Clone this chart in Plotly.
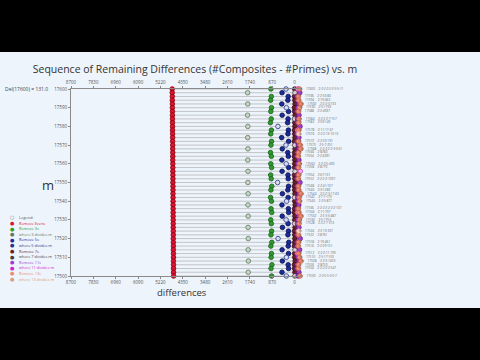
import plotly.graph_objects as go

# ---------------- data ----------------
m_values = list(range(17600, 17499, -2))  # 51 rows, top to bottom

remove_evens = [4761, 4760, 4757, 4758, 4755, 4756, 4752, 4753, 4751, 4750, 4748, 4749, 4746, 4745, 4746, 4742, 4743,
                4741, 4740, 4741, 4738, 4737, 4738, 4735, 4734, 4735, 4732, 4731, 4732, 4729, 4728, 4729, 4726, 4725,
                4726, 4723, 4722, 4723, 4720, 4719, 4720, 4717, 4716, 4717, 4714, 4713, 4714, 4711, 4710, 4711, 4708]
remove_3s = [921, 1826, 905, 932, 1822, 899, 925, 1831, 908, 941, 1819, 902, 928, 1824, 896, 919, 1815,
             937, 903, 1821, 926, 894, 1812, 930, 909, 1817, 887, 921, 1808, 934, 898, 1814, 916, 889,
             1805, 927, 904, 1810, 893, 918, 1801, 885, 922, 1806, 899, 913, 1798, 882, 917, 1803, 895]
remove_5s = [332, 488, 250, 262, 497, 319, 238, 483, 255, 271, 648, 241, 259, 502, 233, 336, 479,
             266, 244, 494, 325, 229, 486, 257, 248, 661, 236, 263, 475, 252, 312, 490, 243, 231,
             481, 329, 254, 472, 239, 260, 643, 226, 249, 485, 237, 318, 477, 251, 234, 489, 321]
remove_7s = [-6, -14, 3, -11, -18, 8, -2, -21, 5, -9, -13, 1, -7, -16, 10, -4, -19,
             -1, 6, -12, -8, -3, -17, 4, -10, -20, 7, -5, -15, 2, -9, -22, -3, 9,
             -13, -6, 0, -18, 3, -8, -11, -4, 6, -16, -2, -7, -20, 5, -1, -14, -10]
remove_11s = [-125, -202, -91, -102, -169, -127, -94, -171, -114, -105, -211, -112, -88, -167, -99, -146, -166,
              -101, -93, -169, -119, -96, -220, -103, -90, -209, -98, -106, -171, -121, -125, -166, -92, -114,
              -168, -121, -116, -170, -100, -95, -218, -104, -89, -194, -107, -128, -172, -97, -91, -168, -139]
remove_13s = [-190, -285, -146, -157, -246, -192, -148, -258, -171, -159, -300, -163, -161, -254, -153, -218, -243,
              -155, -144, -256, -184, -150, -309, -158, -143, -322, -152, -160, -248, -178, -190, -253, -147, -166,
              -245, -186, -173, -259, -158, -149, -307, -156, -142, -281, -161, -193, -249, -154, -145, -255, -211]

x_tick_values = [8700, 7830, 6960, 6090, 5220, 4350, 3480, 2610, 1740, 870, 0]
y_tick_values = list(range(17500, 17601, 10))
del_label = "Del(17600) = 131.0"

stages = [remove_evens, remove_3s, remove_5s, remove_7s, remove_11s, remove_13s]
for s in stages:
    assert len(s) == len(m_values), len(s)

# ---------------- styles ----------------
BG = "#EEF4FB"
styles = {
    "Remove Evens": dict(color="#DC143C", line="#8B0000"),
    "Remove 3s": dict(color="#2E9B2E", line="#1E5E1E"),
    "where 3 divides m": dict(color="#C9D4C9", line="#5E7A5E"),
    "Remove 5s": dict(color="#1C2C9C", line="#0A0F50"),
    "where 5 divides m": dict(color="#D8DDF2", line="#26358A"),
    "Remove 7s": dict(color="#6B1F2A", line="#3A0A10"),
    "where 7 divides m": dict(color="#D9CFD1", line="#4A3A44"),
    "Remove 11s": dict(color="#A23BD0", line="#5E1A80"),
    "where 11 divides m": dict(color="#F0B8F0", line="#D020D0"),
    "Remove 13s": dict(color="#F08A70", line="#C05A40"),
    "where 13 divides m": dict(color="#F6D3C4", line="#D89C84"),
}
stage_names = [("Remove Evens", None), ("Remove 3s", "where 3 divides m"), ("Remove 5s", "where 5 divides m"),
               ("Remove 7s", "where 7 divides m"), ("Remove 11s", "where 11 divides m"),
               ("Remove 13s", "where 13 divides m")]
stage_primes = [2, 3, 5, 7, 11, 13]

fig = go.Figure()

# row connecting lines
lx, ly = [], []
for i, m in enumerate(m_values):
    for s in stages:
        lx.append(s[i]); ly.append(m)
    lx.append(None); ly.append(None)
fig.add_trace(go.Scatter(x=lx, y=ly, mode="lines", line=dict(color="#A4A4A4", width=0.6),
                         hoverinfo="skip", showlegend=False, cliponaxis=False))

# markers grouped by category
for (name_rm, name_div), p, s in zip(stage_names, stage_primes, stages):
    groups = {name_rm: ([], [])}
    if name_div:
        groups[name_div] = ([], [])
    for i, m in enumerate(m_values):
        key = name_div if (name_div and m % p == 0) else name_rm
        groups[key][0].append(s[i]); groups[key][1].append(m)
    for key, (gx, gy) in groups.items():
        st = styles[key]
        fig.add_trace(go.Scatter(x=gx, y=gy, mode="markers", name=key, showlegend=False, cliponaxis=False,
                                 marker=dict(size=4.6, color=st["color"], line=dict(color=st["line"], width=0.8))))

# factorization labels at end of each row
def factor_text(n):
    f, d, k = [], 2, n
    while d * d <= k:
        while k % d == 0:
            f.append(str(d)); k //= d
        d += 1
    if k > 1:
        f.append(str(k))
    return "m = %d = %s" % (n, "\u00b7".join(f))

fig.add_trace(go.Scatter(x=remove_13s, y=m_values, mode="text", text=[factor_text(m) for m in m_values],
                         textposition="middle right", textfont=dict(size=3.2, color="#6A6A6A"),
                         showlegend=False, cliponaxis=False, hoverinfo="skip"))

# invisible trace for top axis
fig.add_trace(go.Scatter(x=[x_tick_values[0]], y=[m_values[0]], xaxis="x2", mode="markers",
                         marker=dict(opacity=0), showlegend=False, hoverinfo="skip"))

# ---------------- layout ----------------
L, R, T, B = 71, 179, 89, 84
PW, PH = 480 - L - R, 360 - T - B

def px(xp):
    return (xp - L) / PW

def py(yp):
    return (360 - B - yp) / PH

axis_common = dict(range=[8700, -250], tickmode="array", tickvals=x_tick_values,
                   ticktext=[str(v) for v in x_tick_values], tickfont=dict(size=4.5, color="#555"),
                   ticks="outside", ticklen=2, tickcolor="#888", showline=True, linecolor="#8A8A8A",
                   linewidth=1, showgrid=False, zeroline=False)

annotations = [
    dict(text=del_label, x=px(3), y=py(89), xref="paper", yref="paper", xanchor="left", yanchor="middle",
         showarrow=False, font=dict(size=5, color="#444")),
    dict(text="m", x=px(48), y=py(185), xref="paper", yref="paper", xanchor="center", yanchor="middle",
         showarrow=False, font=dict(size=13, color="#333")),
    dict(text="differences", x=px(182), y=py(292), xref="paper", yref="paper", xanchor="center",
         yanchor="middle", showarrow=False, font=dict(size=9.5, color="#333")),
]
legend_items = ["Legend:"] + list(styles.keys())
for k, name in enumerate(legend_items):
    yy = 217.4 + k * 5.6
    if name == "Legend:":
        mc, tc, glyph = "#777", "#555", "\u25cb"
    else:
        mc = styles[name]["color"] if not name.startswith("where") else styles[name]["line"]
        tc = mc
        glyph = "\u25cf"
    annotations.append(dict(text=glyph, x=px(12.7), y=py(yy), xref="paper", yref="paper", xanchor="center",
                            yanchor="middle", showarrow=False, font=dict(size=5, color=mc)))
    annotations.append(dict(text=name, x=px(16.5), y=py(yy), xref="paper", yref="paper", xanchor="left",
                            yanchor="middle", showarrow=False, font=dict(size=3.9, color=tc)))

shapes = [
    dict(type="rect", xref="paper", yref="paper", x0=px(-5), x1=px(485), y0=py(52), y1=py(-5),
         fillcolor="black", line=dict(width=0), layer="above"),
    dict(type="rect", xref="paper", yref="paper", x0=px(-5), x1=px(485), y0=py(365), y1=py(308),
         fillcolor="black", line=dict(width=0), layer="above"),
]

fig.update_layout(
    width=480, height=360, autosize=False,
    margin=dict(l=L, r=R, t=T, b=B, pad=0),
    paper_bgcolor=BG, plot_bgcolor=BG,
    font=dict(family="Open Sans, DejaVu Sans, sans-serif"),
    title=dict(text="Sequence of Remaining Differences (#Composites - #Primes) vs. m",
               x=195 / 480, y=1 - 69 / 360, xref="container", yref="container",
               xanchor="center", yanchor="middle", font=dict(size=10.5, color="#333")),
    xaxis=axis_common,
    xaxis2=dict(axis_common, overlaying="x", side="top", anchor="y"),
    yaxis=dict(range=[17500, 17600], tickmode="array", tickvals=y_tick_values,
               ticktext=[str(v) for v in y_tick_values], tickfont=dict(size=4.5, color="#555"),
               ticks="outside", ticklen=2, tickcolor="#888", showline=True, linecolor="#8A8A8A",
               linewidth=1, showgrid=False, zeroline=False),
    showlegend=False,
    hovermode=False,
    annotations=annotations,
    shapes=shapes,
)

fig.write_html("out.html", config={"displayModeBar": False, "staticPlot": True},
               post_script="document.body.style.margin='0';document.body.style.padding='0';"
                           "document.body.style.overflow='hidden';document.body.style.background='black';")
